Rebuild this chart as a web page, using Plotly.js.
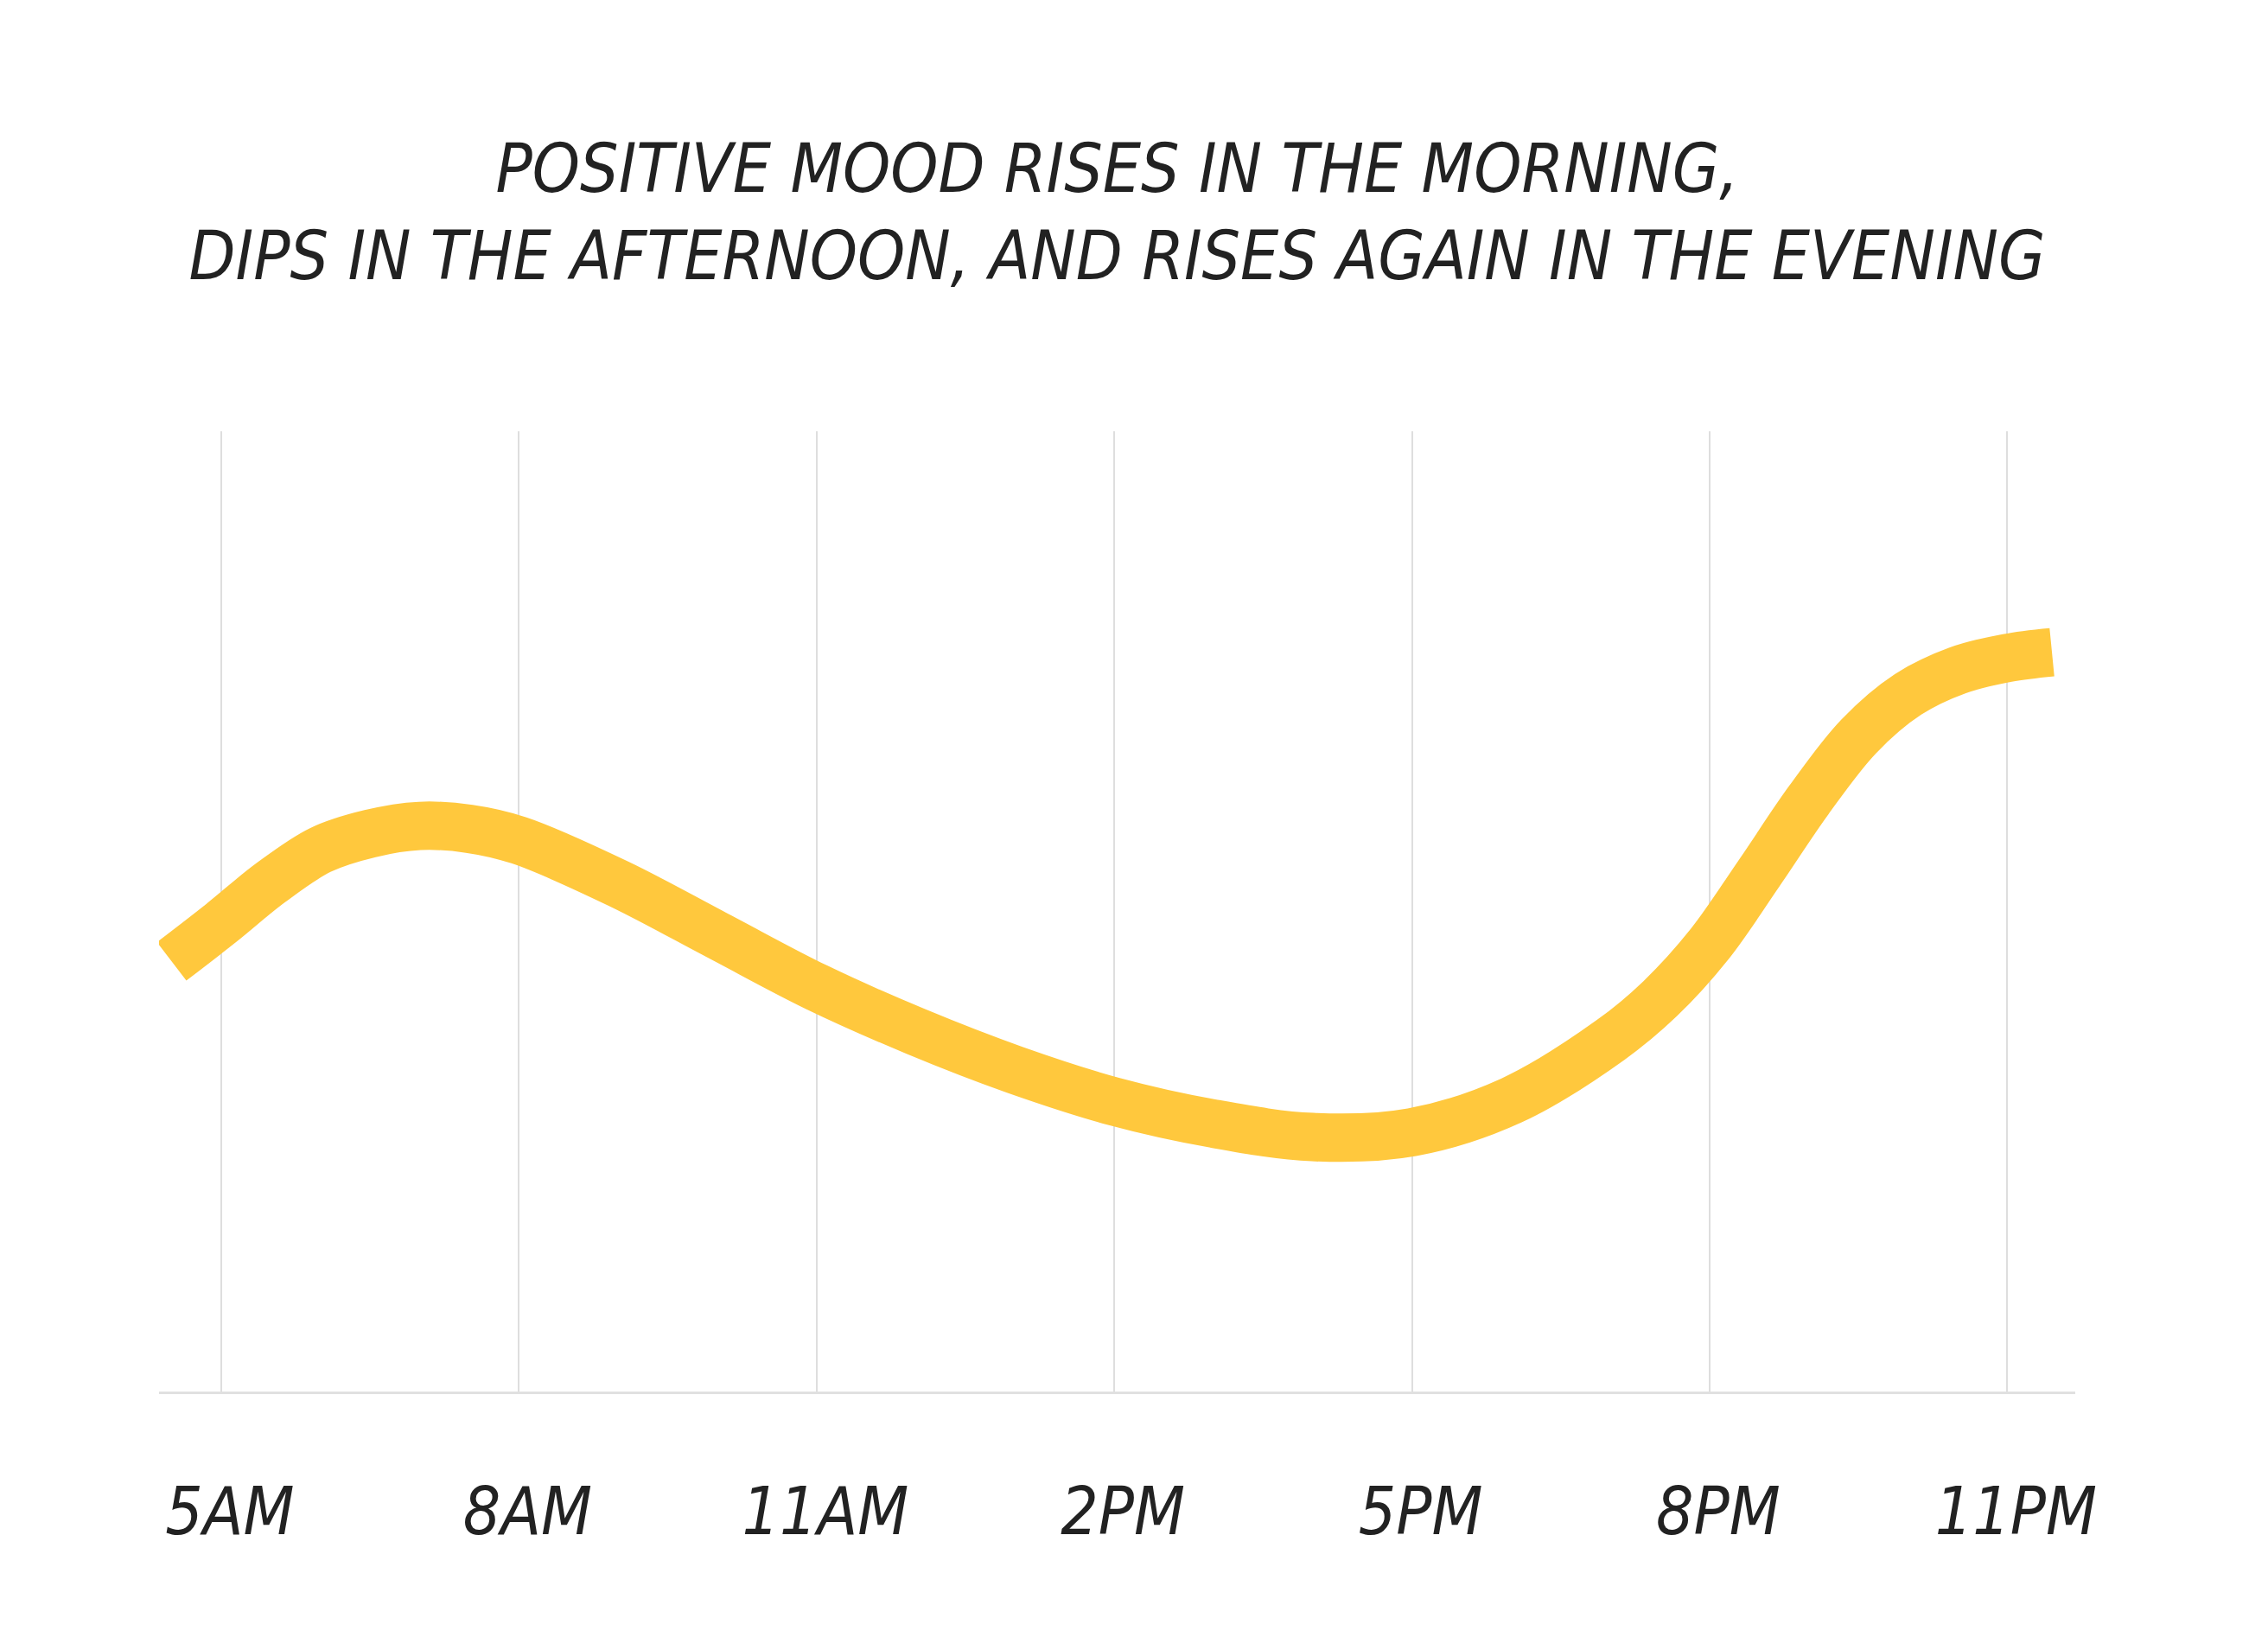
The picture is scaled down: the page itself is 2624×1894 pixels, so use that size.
<!DOCTYPE html>
<html>
<head>
<meta charset="utf-8">
<script src="https://cdn.plot.ly/plotly-3.0.1.min.js"></script>
<style>
  html, body { margin: 0; padding: 0; background: #ffffff; }
  #chart { width: 2624px; height: 1894px; }
  .gtitle { font-stretch: condensed; }
  .xtick text { font-stretch: condensed; }
</style>
</head>
<body>
<div id="chart"></div>
<script>
// Hour of day (24h clock) and relative positive-mood level
const hours = [4.5, 5, 5.5, 6, 6.5, 7, 7.5, 8, 9, 10, 11, 12, 13, 14, 15, 16, 17, 18, 19, 19.5, 20, 20.5, 21, 21.5, 22, 22.5, 23, 23.45];
const mood  = [44.8, 48.8, 53.0, 56.4, 58.1, 58.9, 58.6, 57.4, 52.9, 47.5, 42.1, 37.5, 33.5, 30.2, 27.9, 26.5, 27.0, 30.3, 36.6, 40.9, 46.6, 54.0, 61.6, 68.2, 72.6, 75.1, 76.4, 77.0];

const tickHours  = [5, 8, 11, 14, 17, 20, 23];
const tickLabels = ["5AM", "8AM", "11AM", "2PM", "5PM", "8PM", "11PM"];

const titleText = "POSITIVE MOOD RISES IN THE MORNING,<br>DIPS IN THE AFTERNOON, AND RISES AGAIN IN THE EVENING";

const fontFamily = "'DejaVu Sans Condensed', 'DejaVu Sans', sans-serif";

const trace = {
  x: hours,
  y: mood,
  type: "scatter",
  mode: "lines",
  line: { color: "#FFC83D", width: 56, shape: "spline", smoothing: 1.0 },
  hoverinfo: "skip",
  showlegend: false
};

const layout = {
  width: 2624,
  height: 1894,
  paper_bgcolor: "#ffffff",
  plot_bgcolor: "#ffffff",
  margin: { l: 184, r: 223, t: 499, b: 284 },
  title: {
    text: titleText,
    x: 0.5,
    xanchor: "center",
    xref: "paper",
    y: 1 - 222 / 1894,
    yanchor: "top",
    font: { family: fontFamily, size: 78, color: "#222222", style: "italic" }
  },
  xaxis: {
    range: [4.373, 23.685],
    tickmode: "array",
    tickvals: tickHours,
    ticktext: tickLabels,
    showgrid: true,
    gridcolor: "#dedede",
    gridwidth: 2,
    zeroline: false,
    showline: true,
    linecolor: "#e0e0e0",
    linewidth: 3,
    ticks: "",
    ticklabelstandoff: 71,
    ticklabelshift: 10,
    tickfont: { family: fontFamily, size: 76, color: "#222222", style: "italic" },
    fixedrange: true
  },
  yaxis: {
    range: [0, 100],
    visible: false,
    showgrid: false,
    zeroline: false,
    fixedrange: true
  }
};

Plotly.newPlot("chart", [trace], layout, { displayModeBar: false, staticPlot: true });
</script>
</body>
</html>
